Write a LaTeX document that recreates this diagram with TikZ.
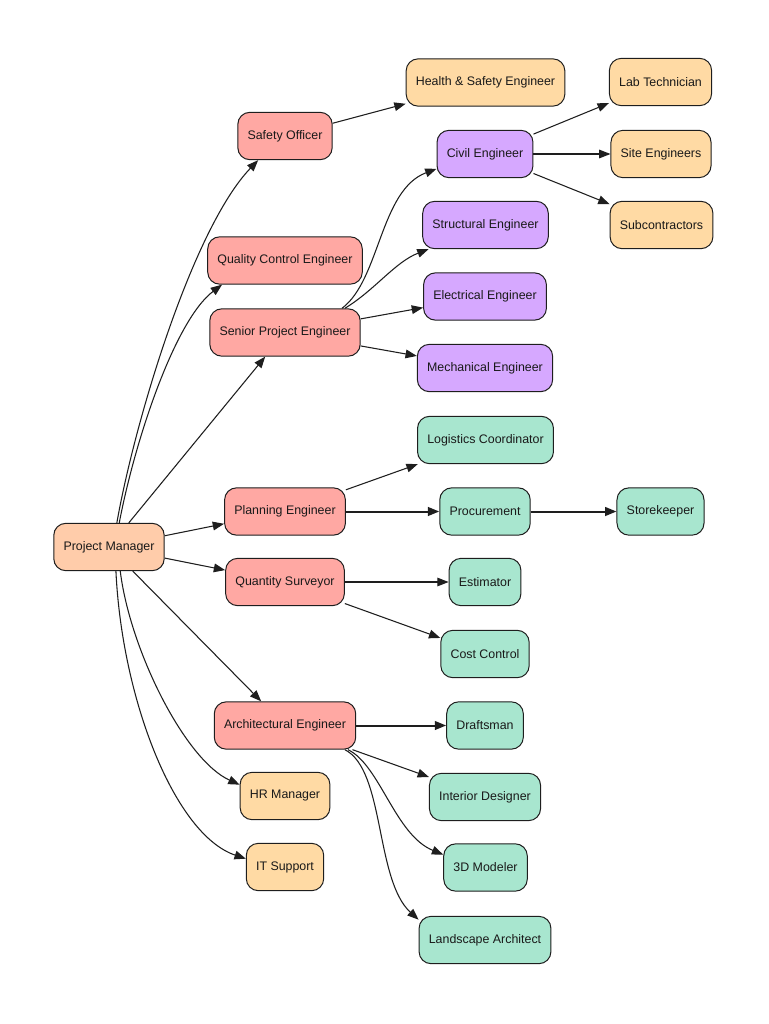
\documentclass[tikz,border=0pt]{standalone}
\usepackage{fontspec}
\setmainfont{Liberation Sans}
\usetikzlibrary{arrows.meta}
\definecolor{pmcol}{RGB}{255,204,170}
\definecolor{redcol}{RGB}{255,168,163}
\definecolor{orcol}{RGB}{255,218,164}
\definecolor{purcol}{RGB}{214,168,255}
\definecolor{grncol}{RGB}{168,230,207}
\definecolor{linecol}{RGB}{30,30,30}
\tikzstyle{role} = [draw=linecol, line width=0.75pt, rounded corners=9pt, minimum height=35.5pt, inner xsep=7.3pt, font=\fontsize{9.3pt}{11pt}\selectfont, text=black!90]
\tikzstyle{link} = [draw=linecol, line width=0.8pt, -{Triangle[length=8.5pt,width=6.5pt]}]
\tikzstyle{boldlink} = [link, line width=1.5pt]

\begin{document}
\begin{tikzpicture}[x=0.75pt,y=0.75pt,yscale=-1,xscale=1]
\useasboundingbox (0,0) rectangle (768,1024);

%Nodes: level 0 and 1
\node [role, fill=pmcol] (pm) at (109,547) {Project Manager};
\node [role, fill=redcol] (so) at (285,136) {Safety Officer};
\node [role, fill=redcol] (qc) at (285,260.5) {Quality Control Engineer};
\node [role, fill=redcol] (spe) at (285,332.5) {Senior Project Engineer};
\node [role, fill=redcol] (pe) at (285,511.5) {Planning Engineer};
\node [role, fill=redcol] (qs) at (285,582) {Quantity Surveyor};
\node [role, fill=redcol] (ae) at (285,725.5) {Architectural Engineer};
\node [role, fill=orcol] (hr) at (285,796) {HR Manager};
\node [role, fill=orcol] (it) at (285,867) {IT Support};

%Nodes: level 2
\node [role, fill=orcol] (hse) at (485.5,82.5) {Health \& Safety Engineer};
\node [role, fill=purcol] (civ) at (485,154) {Civil Engineer};
\node [role, fill=purcol] (str) at (485.5,225) {Structural Engineer};
\node [role, fill=purcol] (ele) at (485,296.5) {Electrical Engineer};
\node [role, fill=purcol] (mec) at (485,368) {Mechanical Engineer};
\node [role, fill=grncol] (log) at (485.5,440) {Logistics Coordinator};
\node [role, fill=grncol] (pro) at (485,511.5) {Procurement};
\node [role, fill=grncol] (est) at (485,582) {Estimator};
\node [role, fill=grncol] (cc) at (485,654) {Cost Control};
\node [role, fill=grncol] (dra) at (485,725.5) {Draftsman};
\node [role, fill=grncol] (int) at (485,797) {Interior Designer};
\node [role, fill=grncol] (mod) at (485.5,867.5) {3D Modeler};
\node [role, fill=grncol] (la) at (485,940) {Landscape Architect};

%Nodes: level 3
\node [role, fill=orcol] (lab) at (660.5,82) {Lab Technician};
\node [role, fill=orcol] (se) at (661,154) {Site Engineers};
\node [role, fill=orcol] (sub) at (661.5,225) {Subcontractors};
\node [role, fill=grncol] (sk) at (660.5,511.5) {Storekeeper};

%Straight Lines
\draw [link] (pm) -- (spe);
\draw [link] (pm) -- (pe);
\draw [link] (pm) -- (qs);
\draw [link] (pm) -- (ae);
\draw [link] (so) -- (hse);
\draw [link] (spe) -- (ele);
\draw [link] (spe) -- (mec);
\draw [link] (civ) -- (lab);
\draw [link] (civ) -- (se);
\draw [link] (civ) -- (sub);
\draw [link] (pe) -- (log);
\draw [boldlink] (pe) -- (pro);
\draw [boldlink] (pro) -- (sk);
\draw [link] (qs) -- (est);
\draw [link] (qs) -- (cc);
\draw [boldlink] (ae) -- (dra);
\draw [link] (ae) -- (int);

%Curve Lines
\draw [link] (pm.72) .. controls (135,420) and (193,228) .. (so.-138);
\draw [link] (pm.67) .. controls (135,440) and (175,320) .. (qc.-159);
\draw [link] (pm.-65) .. controls (130,650) and (185,760) .. (hr.166);
\draw [link] (pm.-74) .. controls (122,700) and (175,835) .. (it.168);
\draw [link] (spe.23) .. controls (380,280) and (380,190) .. (civ.-163);
\draw [link] (spe.22) .. controls (375,290) and (395,262) .. (str.-157);
\draw [link] (ae.-21) .. controls (380,765) and (395,835) .. (mod.163);
\draw [link] (ae.-22) .. controls (385,770) and (375,880) .. (la.163);

\end{tikzpicture}
\end{document}
